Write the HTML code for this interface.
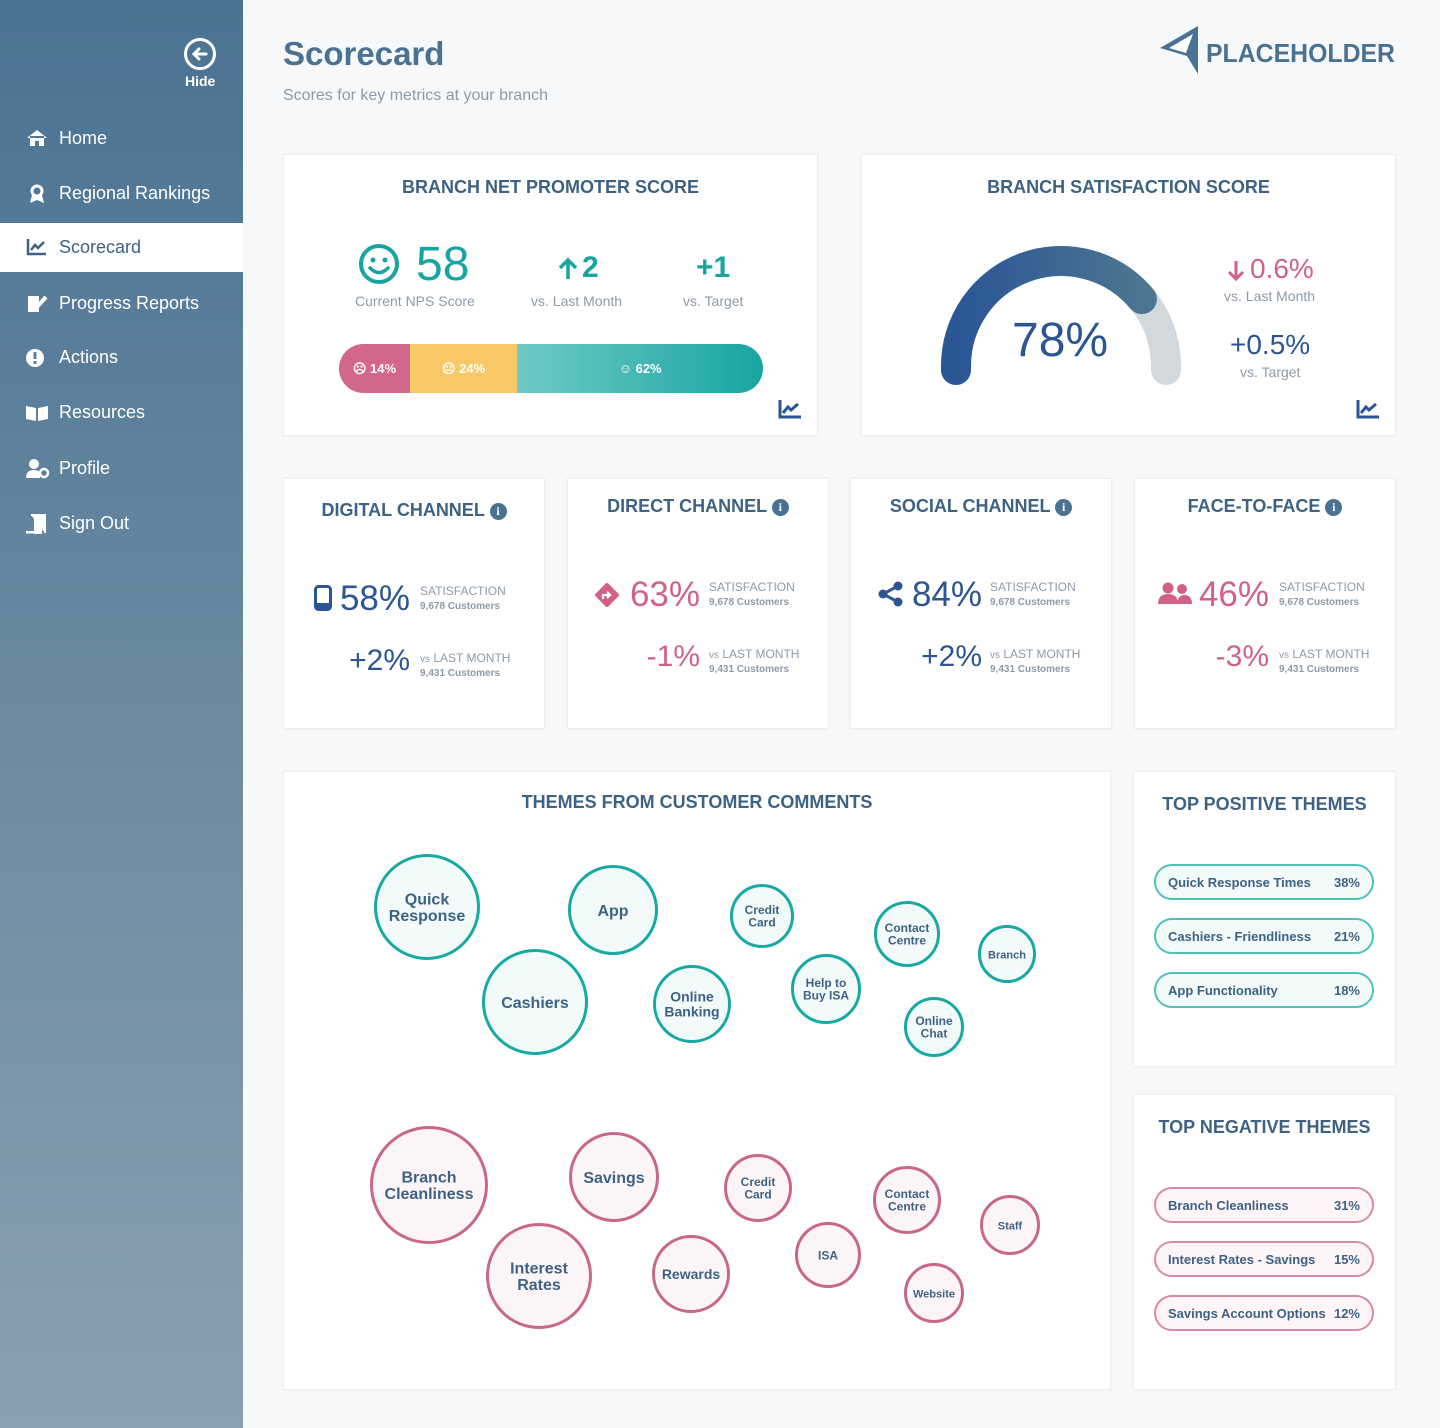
<!DOCTYPE html>
<html><head><meta charset="utf-8">
<style>
*{box-sizing:border-box;margin:0;padding:0}
body{width:1440px;height:1428px;background:#f7f8f9;font-family:"Liberation Sans",sans-serif;position:relative;overflow:hidden}
.abs{position:absolute}
#side{left:0;top:0;width:243px;height:1428px;background:linear-gradient(180deg,#4a7292 0%,#6a8aa2 50%,#8aa0b0 100%)}
.nav{position:absolute;left:0;width:243px;height:49px;color:#fff;font-size:18px;display:flex;align-items:center;padding-left:59px}
.nav svg{position:absolute;left:26px;top:15px}
.nav.active{background:#fff;color:#3e6283}
.card{position:absolute;background:#fff;border:1px solid #eceef0;box-shadow:0 0 3px rgba(0,0,0,.04)}
.ttl{position:absolute;left:0;right:0;text-align:center;color:#3e6283;font-weight:bold;font-size:18px}
.info{display:inline-block;width:17px;height:17px;border-radius:50%;background:#4a7292;color:#fff;font-size:12px;line-height:17px;text-align:center;vertical-align:1px;font-family:"Liberation Serif",serif;font-weight:bold}
.gray{color:#8e9aa6}
.teal{color:#17a5a1}
.blue{color:#2b5693}
.pink{color:#d2618a}
.sm{font-size:12px;color:#8e9aa6;line-height:16px}
.sm2{font-size:10px;color:#8e9aa6;font-weight:bold}
.pill{position:absolute;left:20px;width:220px;height:36px;border-radius:18px;font-size:13px;font-weight:bold;color:#3e6283;display:flex;justify-content:space-between;align-items:center;padding:0 12px}
.pill.p{border:2px solid #4fc0bb;background:#f2fafa}
.pill.n{border:2px solid #d88aa8;background:#fdf5f8}
</style></head><body>
<div id="side" class="abs">
  <div class="abs" style="left:184px;top:38px;width:32px;height:32px;border:3px solid #fff;border-radius:50%"><svg width="26" height="26"><path d="M19,13 H8 M12,8 L7,13 L12,18" stroke="#fff" stroke-width="3" fill="none" stroke-linecap="round"/></svg></div>
  <div class="abs" style="left:185px;top:73px;color:#fff;font-size:14px;font-weight:bold">Hide</div>
  <div class="nav" style="top:114px"><svg width="22" height="18"><path d="M1,9 L11,1 L21,9 M4,7 V17 H9 V12 H13 V17 H18 V7" fill="#fff"/></svg>Home</div>
  <div class="nav" style="top:169px"><svg width="22" height="20"><circle cx="11" cy="7" r="5" fill="none" stroke="#fff" stroke-width="3"/><path d="M6,11 L4,19 L11,16 L18,19 L16,11" fill="#fff"/></svg>Regional Rankings</div>
  <div class="nav active" style="top:223px"><svg width="22" height="18"><path d="M2,1 V16 H20" stroke="#3e6283" stroke-width="2.5" fill="none"/><path d="M5,12 L9,7 L12,10 L18,4" stroke="#3e6283" stroke-width="2.5" fill="none"/></svg>Scorecard</div>
  <div class="nav" style="top:279px"><svg width="22" height="20"><path d="M2,2 H13 V18 H2 Z" fill="#fff"/><path d="M10,14 L20,3" stroke="#fff" stroke-width="4"/></svg>Progress Reports</div>
  <div class="nav" style="top:333px"><svg width="22" height="20"><circle cx="9" cy="10" r="9" fill="#fff"/><rect x="7.5" y="4" width="3" height="7" fill="#5f82a0"/><rect x="7.5" y="13" width="3" height="3" fill="#5f82a0"/></svg>Actions</div>
  <div class="nav" style="top:388px"><svg width="22" height="20"><path d="M0,3 L10,5 V18 L0,16 Z M12,5 L22,3 V16 L12,18 Z" fill="#fff"/></svg>Resources</div>
  <div class="nav" style="top:444px"><svg width="24" height="20"><circle cx="8" cy="5" r="5" fill="#fff"/><path d="M0,19 Q0,11 8,11 Q13,11 14,14 V19 Z" fill="#fff"/><circle cx="18" cy="14" r="4" fill="none" stroke="#fff" stroke-width="2.5"/></svg>Profile</div>
  <div class="nav" style="top:499px"><svg width="22" height="20"><path d="M5,1 H19 V19 M9,2 L15,5 V19 H9 Z" fill="#fff" stroke="#fff" stroke-width="2"/><rect x="0" y="17" width="8" height="2.5" fill="#fff"/></svg>Sign Out</div>
</div>

<div class="abs" style="left:283px;top:35px;font-size:33px;font-weight:bold;color:#4a7292">Scorecard</div>
<div class="abs" style="left:283px;top:87px;font-size:16px;color:#8e9aa6">Scores for key metrics at your branch</div>
<div class="abs" style="left:1160px;top:26px">
  <svg width="240" height="50"><path d="M0,22 L38,0 L38,48 L27,30 Z" fill="#4a7292"/><path d="M9,22 L33,8 L26,27 Z" fill="#fff"/>
  <text x="46" y="36" font-family="Liberation Sans" font-weight="bold" font-size="26" fill="#4a7292" textLength="189" lengthAdjust="spacingAndGlyphs">PLACEHOLDER</text></svg>
</div>

<div class="card" style="left:283px;top:154px;width:535px;height:282px">
  <div class="ttl" style="top:22px">BRANCH NET PROMOTER SCORE</div>
  <svg class="abs" style="left:74px;top:88px" width="42" height="42"><circle cx="21" cy="21" r="18" fill="none" stroke="#17a5a1" stroke-width="4"/><circle cx="15" cy="17" r="2.5" fill="#17a5a1"/><circle cx="27" cy="17" r="2.5" fill="#17a5a1"/><path d="M12,25 Q21,34 30,25" fill="none" stroke="#17a5a1" stroke-width="3.5" stroke-linecap="round"/></svg>
  <div class="abs teal" style="left:132px;top:82px;font-size:48px">58</div>
  <div class="abs gray" style="left:71px;top:138px;font-size:14px">Current NPS Score</div>
  <svg class="abs" style="left:273px;top:102px" width="22" height="24"><path d="M11,22 V4 M3,11 L11,3 L19,11" stroke="#17a5a1" stroke-width="3.5" fill="none"/></svg>
  <div class="abs teal" style="left:298px;top:96px;font-size:30px;font-weight:bold">2</div>
  <div class="abs gray" style="left:247px;top:138px;font-size:14px">vs. Last Month</div>
  <div class="abs teal" style="left:412px;top:96px;font-size:30px;font-weight:bold">+1</div>
  <div class="abs gray" style="left:399px;top:138px;font-size:14px">vs. Target</div>
  <div class="abs" id="npsbar" style="left:55px;top:189px;width:424px;height:49px;border-radius:25px;overflow:hidden;display:flex"></div>
  <svg class="abs" style="left:494px;top:244px" width="24" height="20"><path d="M2,1 V18 H23" stroke="#2b5693" stroke-width="3" fill="none"/><path d="M5,14 L10,8 L13,11 L20,5" stroke="#2b5693" stroke-width="3" fill="none"/></svg>
</div>

<div class="card" style="left:861px;top:154px;width:535px;height:282px">
  <div class="ttl" style="top:22px">BRANCH SATISFACTION SCORE</div>
  <svg class="abs" style="left:0;top:0" width="535" height="282" id="gauge">
    <defs><linearGradient id="gg" x1="0" x2="1"><stop offset="0" stop-color="#2a5696"/><stop offset="1" stop-color="#4b7590"/></linearGradient></defs>
  </svg>
  <div class="abs blue" style="left:150px;top:158px;font-size:48px">78%</div>
  <svg class="abs" style="left:364px;top:105px" width="20" height="22"><path d="M10,1 V19 M3,12 L10,19 L17,12" stroke="#d2618a" stroke-width="3" fill="none"/></svg>
  <div class="abs pink" style="left:388px;top:98px;font-size:28px">0.6%</div>
  <div class="abs gray" style="left:362px;top:133px;font-size:14px">vs. Last Month</div>
  <div class="abs blue" style="left:368px;top:174px;font-size:28px">+0.5%</div>
  <div class="abs gray" style="left:378px;top:209px;font-size:14px">vs. Target</div>
  <svg class="abs" style="left:494px;top:244px" width="24" height="20"><path d="M2,1 V18 H23" stroke="#2b5693" stroke-width="3" fill="none"/><path d="M5,14 L10,8 L13,11 L20,5" stroke="#2b5693" stroke-width="3" fill="none"/></svg>
</div>

<div id="channels"></div>

<div class="card" style="left:283px;top:771px;width:828px;height:619px">
  <div class="ttl" style="top:20px">THEMES FROM CUSTOMER COMMENTS</div>
</div>
<svg class="abs" style="left:0;top:0" width="1440" height="1428" id="bub"></svg>

<div class="card" style="left:1133px;top:771px;width:263px;height:296px">
  <div class="ttl" style="top:22px">TOP POSITIVE THEMES</div>
  <div class="pill p" style="top:92px"><span>Quick Response Times</span><span>38%</span></div>
  <div class="pill p" style="top:146px"><span>Cashiers - Friendliness</span><span>21%</span></div>
  <div class="pill p" style="top:200px"><span>App Functionality</span><span>18%</span></div>
</div>
<div class="card" style="left:1133px;top:1094px;width:263px;height:296px">
  <div class="ttl" style="top:22px">TOP NEGATIVE THEMES</div>
  <div class="pill n" style="top:92px"><span>Branch Cleanliness</span><span>31%</span></div>
  <div class="pill n" style="top:146px"><span>Interest Rates - Savings</span><span>15%</span></div>
  <div class="pill n" style="top:200px"><span>Savings Account Options</span><span>12%</span></div>
</div>

<script>
const npsLabels=['14%','24%','62%'];
const npsValues=[14,24,62];
const npsFaces=['☹','😐︎','☺'];
const npsColors=['#d2668b','#f6c866','linear-gradient(90deg,#6fcac6,#17a5a1)'];
const bar=document.getElementById('npsbar');
npsValues.forEach((v,i)=>{
  const d=document.createElement('div');
  
  
  d.style.cssText=`flex:${v} 0 20px;background:${npsColors[i]};color:#fff;font-size:13px;font-weight:bold;display:flex;align-items:center;justify-content:center`;
  d.textContent=npsFaces[i]+' '+npsLabels[i];
  bar.appendChild(d);
});

const gaugeValue=[78];
const g=document.getElementById('gauge'),NS='http://www.w3.org/2000/svg';
const cx=199,cy=211,R=105;
function pt(f){const a=Math.PI*(1-f);return [cx+R*Math.cos(a),cy-R*Math.sin(a)];}
function arcPath(f1,full){const [x0,y0]=pt(0),[x1,y1]=pt(f1);return `M${x0},${y0+4} L${x0},${y0} A${R},${R} 0 0 1 ${x1},${y1}`+(full?` L${x1},${y1+4}`:'');}
const bg=document.createElementNS(NS,'path');


bg.setAttribute('d',arcPath(1,true));bg.setAttribute('fill','none');bg.setAttribute('stroke','#d3d8dd');bg.setAttribute('stroke-width',30);bg.setAttribute('stroke-linecap','round');
g.appendChild(bg);
const fg=document.createElementNS(NS,'path');


fg.setAttribute('d',arcPath(gaugeValue[0]/100,false));fg.setAttribute('fill','none');fg.setAttribute('stroke','url(#gg)');fg.setAttribute('stroke-width',30);fg.setAttribute('stroke-linecap','round');
g.appendChild(fg);

const chNames=['DIGITAL CHANNEL','DIRECT CHANNEL','SOCIAL CHANNEL','FACE-TO-FACE'];
const chSat=['58%','63%','84%','46%'];
const chDelta=['+2%','-1%','+2%','-3%'];
const chColor=['#2b5693','#d2618a','#2b5693','#d2618a'];
const chX=[283,567,850,1134];
const chTop=[0,-4,-4,-4];
const icons=[
 c=>`<svg width="18" height="26"><rect x="1.5" y="1.5" width="15" height="23" rx="3" fill="none" stroke="${c}" stroke-width="3"/><rect x="1" y="18" width="16" height="7" rx="2" fill="${c}"/></svg>`,
 c=>`<svg width="28" height="28"><rect x="5" y="5" width="18" height="18" transform="rotate(45 14 14)" fill="${c}" rx="2"/><path d="M10,18 V14 H17 M14,11 L17,14 L14,17" stroke="#fff" stroke-width="2.2" fill="none"/></svg>`,
 c=>`<svg width="26" height="26"><circle cx="20" cy="5" r="4.5" fill="${c}"/><circle cx="5" cy="13" r="4.5" fill="${c}"/><circle cx="20" cy="21" r="4.5" fill="${c}"/><path d="M20,5 L5,13 L20,21" stroke="${c}" stroke-width="3" fill="none"/></svg>`,
 c=>`<svg width="34" height="24"><circle cx="10" cy="7" r="5.5" fill="${c}"/><path d="M0,23 Q0,13 10,13 Q20,13 20,23 Z" fill="${c}"/><circle cx="24" cy="8" r="5" fill="${c}"/><path d="M19,23 Q20,14 26,14 Q34,14 34,23 Z" fill="${c}"/></svg>`
];
const iconLeft=[30,25,27,23];
const numRight=[134,128,129,126];
const lblLeft=[136,141,139,144];
const host=document.getElementById('channels');
chNames.forEach((n,i)=>{
  const c=document.createElement('div');
  c.className='card';
  
  
  c.style.cssText=`left:${chX[i]}px;top:478px;width:262px;height:251px`;
  const t=chTop[i];
  c.innerHTML=`<div class="ttl" style="top:${21+t}px">${n} <span class="info">i</span></div>
  <div class="abs" style="left:${iconLeft[i]}px;top:${106+t}px">${icons[i](chColor[i])}</div>
  <div class="abs" style="right:${numRight[i]}px;top:${100+t}px;font-size:35px;color:${chColor[i]}">${chSat[i]}</div>
  <div class="abs sm" style="left:${lblLeft[i]}px;top:${104+t}px">SATISFACTION</div>
  <div class="abs sm2" style="left:${lblLeft[i]}px;top:${122+t}px">9,678 Customers</div>
  <div class="abs" style="right:${numRight[i]}px;top:${165+t}px;font-size:30px;color:${chColor[i]}">${chDelta[i]}</div>
  <div class="abs sm" style="left:${lblLeft[i]}px;top:${171+t}px"><span style="font-size:10px">vs</span> LAST MONTH</div>
  <div class="abs sm2" style="left:${lblLeft[i]}px;top:${189+t}px">9,431 Customers</div>`;
  host.appendChild(c);
});

const posLabels=['Quick|Response','App','Credit|Card','Contact|Centre','Branch','Cashiers','Online|Banking','Help to|Buy ISA','Online|Chat'];
const posSize=[53,45,32,33,29,53,39,35,30];
const posX=[427,613,762,907,1007,535,692,826,934];
const posY=[907,910,916,934,954,1002,1004,989,1027];
const negLabels=['Branch|Cleanliness','Savings','Credit|Card','Contact|Centre','Staff','Interest|Rates','Rewards','ISA','Website'];
const negSize=[59,45,34,34,30,53,39,33,30];
const negX=[429,614,758,907,1010,539,691,828,934];
const negY=[1185,1177,1188,1200,1225,1276,1274,1255,1293];
const sv=document.getElementById('bub');
function bubbles(labels,size,xs,ys,stroke,fill,name){
  labels.forEach((l,i)=>{
    const r=size[i];
    const c=document.createElementNS(NS,'circle');
    
    
    c.setAttribute('cx',xs[i]);c.setAttribute('cy',ys[i]);c.setAttribute('r',r-1.5);
    c.setAttribute('fill',fill);c.setAttribute('stroke',stroke);c.setAttribute('stroke-width',3);
    sv.appendChild(c);
    const parts=l.split('|');
    const fs=r>42?16:r>36?14:12;
    const lh=fs*1.05;
    parts.forEach((p,j)=>{
      const t=document.createElementNS(NS,'text');
      
      
      t.setAttribute('x',xs[i]);
      t.setAttribute('y',ys[i]+fs*0.36+(j-(parts.length-1)/2)*lh);
      t.setAttribute('text-anchor','middle');t.setAttribute('font-size',r<31&&parts.length==1?11:fs);
      t.setAttribute('font-weight','bold');t.setAttribute('fill','#3e6283');t.setAttribute('font-family','Liberation Sans');
      t.textContent=p;sv.appendChild(t);
    });
  });
}
bubbles(posLabels,posSize,posX,posY,'#17a9a4','#f3fafa','positive-bubble');
bubbles(negLabels,negSize,negX,negY,'#c8668c','#fcf5f8','negative-bubble');
</script>
</body></html>
